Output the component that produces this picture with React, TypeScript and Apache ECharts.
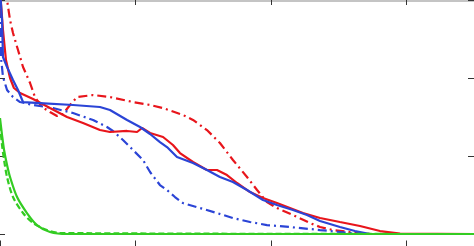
import React, { useEffect, useRef } from "react";
import * as echarts from "echarts";

const xTicks = [0, 1, 2, 3];
const yTicks = [0, 1, 2, 3];

const redSolid: number[][] = [[0,3.128],[0.022,2.615],[0.044,2.231],[0.074,2.0],[0.103,1.872],[0.148,1.808],[0.244,1.731],[0.369,1.615],[0.495,1.5],[0.613,1.423],[0.738,1.333],[0.812,1.308],[0.938,1.321],[1.012,1.308],[1.049,1.359],[1.108,1.295],[1.204,1.244],[1.277,1.141],[1.329,1.038],[1.425,0.923],[1.528,0.821],[1.602,0.821],[1.676,0.756],[1.750,0.654],[1.846,0.538],[1.942,0.462],[2.045,0.397],[2.141,0.333],[2.237,0.269],[2.363,0.205],[2.510,0.154],[2.658,0.103],[2.806,0.038],[2.954,0.006],[3.5,0]];

const blueSolid: number[][] = [[0,3.128],[0.015,2.744],[0.022,2.269],[0.052,2.141],[0.096,1.974],[0.133,1.846],[0.170,1.692],[0.295,1.679],[0.539,1.654],[0.738,1.628],[0.812,1.590],[0.938,1.462],[1.034,1.372],[1.108,1.282],[1.181,1.179],[1.233,1.115],[1.307,0.987],[1.425,0.910],[1.528,0.821],[1.624,0.731],[1.720,0.667],[1.824,0.564],[1.942,0.436],[2.045,0.372],[2.163,0.308],[2.267,0.244],[2.363,0.167],[2.510,0.090],[2.621,0.038],[2.732,0],[3.5,0]];

const redDashDot: number[][] = [[0.037,3.128],[0.052,3.0],[0.074,2.744],[0.096,2.577],[0.133,2.359],[0.170,2.141],[0.222,1.936],[0.258,1.756],[0.310,1.628],[0.369,1.564],[0.421,1.513],[0.465,1.538],[0.517,1.654],[0.569,1.756],[0.687,1.782],[0.812,1.756],[0.982,1.692],[1.108,1.654],[1.204,1.615],[1.351,1.526],[1.425,1.462],[1.528,1.333],[1.624,1.167],[1.720,0.949],[1.824,0.731],[1.898,0.564],[1.971,0.410],[2.045,0.333],[2.163,0.244],[2.289,0.141],[2.363,0.090],[2.459,0.051],[2.584,0.026],[2.732,0],[3.5,0]];

const blueDashDot: number[][] = [[0,3.128],[0.007,2.615],[0.007,2.269],[0.022,2.013],[0.052,1.846],[0.096,1.756],[0.148,1.692],[0.244,1.654],[0.391,1.615],[0.539,1.551],[0.687,1.462],[0.790,1.372],[0.834,1.321],[0.908,1.205],[0.982,1.077],[1.056,0.949],[1.108,0.795],[1.181,0.628],[1.233,0.564],[1.292,0.474],[1.351,0.397],[1.477,0.333],[1.602,0.269],[1.720,0.205],[1.846,0.154],[1.971,0.115],[2.141,0.090],[2.363,0.051],[2.510,0.026],[2.658,0],[3.5,0]];

const greenSolid: number[][] = [[0,1.487],[0.015,1.269],[0.030,1.077],[0.052,0.885],[0.074,0.731],[0.126,0.474],[0.199,0.269],[0.273,0.115],[0.369,0.026],[0.495,0],[3.5,0]];

const greenDashed: number[][] = [[0,1.397],[0.015,1.141],[0.030,0.949],[0.052,0.731],[0.096,0.474],[0.170,0.269],[0.244,0.141],[0.347,0.051],[0.443,0.013],[3.5,0]];

const RED = "#e8151b";
const BLUE = "#2b44d6";
const GREEN = "#33cc22";

export default function App() {
  const ref = useRef<HTMLDivElement>(null);
  useEffect(() => {
    if (!ref.current) return;
    const chart = echarts.init(ref.current, undefined, { renderer: "svg" });
    const tick = (len: number) => ({
      show: true,
      inside: true,
      length: len,
      lineStyle: { color: "#333", width: 1 },
    });
    const xBase = {
      type: "value" as const,
      min: 0,
      max: 3.5,
      interval: 1,
      axisLabel: { show: false },
      splitLine: { show: false },
    };
    const yBase = {
      type: "value" as const,
      min: -0.16,
      max: 3,
      axisLabel: { show: false },
      splitLine: { show: false },
    };
    const line = (data: number[][], color: string, type: any, smooth: any = false) => ({
      type: "line" as const,
      data,
      symbol: "none",
      smooth,
      lineStyle: { color, width: 2.2, type },
      clip: true,
    });
    chart.setOption({
      animation: false,
      backgroundColor: "#fff",
      grid: { left: 10, top: 10, width: 474, height: 246.5 },
      xAxis: [
        { ...xBase, position: "bottom", axisLine: { show: false, onZero: false }, axisTick: { ...tick(6), customValues: xTicks } },
        { ...xBase, position: "top", axisLine: { show: true, onZero: false, lineStyle: { color: "#c4c4c4", width: 3 } }, axisTick: { ...tick(5), customValues: xTicks } },
      ],
      yAxis: [
        { ...yBase, position: "left", axisLine: { show: false, onZero: false }, axisTick: { ...tick(5), customValues: yTicks } },
        { ...yBase, position: "right", axisLine: { show: false, onZero: false }, axisTick: { ...tick(6), customValues: yTicks } },
      ],
      series: [
        line(redDashDot, RED, [9, 4, 2, 4]),
        line(blueDashDot, BLUE, [9, 4, 2, 4]),
        line(redSolid, RED, "solid"),
        line(blueSolid, BLUE, "solid"),
        line(greenDashed, GREEN, [6, 3], 0.3),
        line(greenSolid, GREEN, "solid", 0.3),
      ],
    });
    return () => chart.dispose();
  }, []);
  return (
    <div style={{ position: "fixed", left: 0, top: 0, width: 474, height: 246, overflow: "hidden", background: "#fff" }}>
      <div ref={ref} style={{ position: "absolute", left: -10, top: -10, width: 494, height: 272 }} />
    </div>
  );
}
